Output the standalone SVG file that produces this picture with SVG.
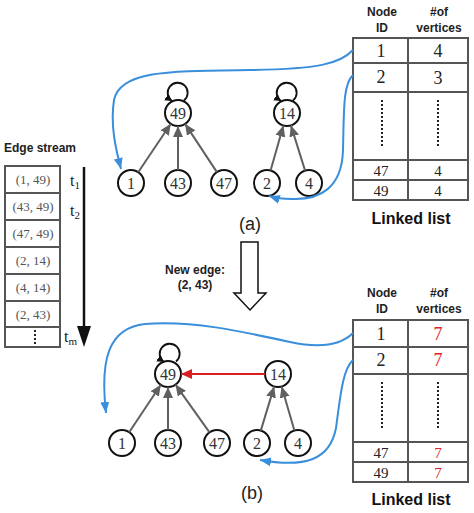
<svg xmlns="http://www.w3.org/2000/svg" width="474" height="513" viewBox="0 0 474 513">
<defs>
<style>
.nd{fill:#fff;stroke:#111;stroke-width:2}
.nt{font-family:"Liberation Serif",serif;font-size:16px;fill:#333;text-anchor:middle}
.ga{stroke:#606060;stroke-width:2;fill:none}
.bl{stroke:#3a8fdc;stroke-width:2;fill:none}
.tb{fill:#fff;stroke:#555;stroke-width:2}
.tl{stroke:#555;stroke-width:2}
.tv{font-family:"Liberation Serif",serif;font-size:18px;fill:#222;text-anchor:middle}
.ts{font-size:15px}
.red{fill:#e0202a}
.hd{font-family:"Liberation Sans",Arial,sans-serif;font-weight:bold;font-size:12px;fill:#222;text-anchor:middle}
.ll{font-family:"Liberation Sans",Arial,sans-serif;font-weight:bold;font-size:16px;fill:#111;text-anchor:middle}
.es{font-family:"Liberation Serif",serif;font-size:13px;fill:#555;text-anchor:middle}
.tt{font-family:"Liberation Serif",serif;font-size:16px;fill:#222}
.dot{stroke:#222;stroke-width:2;stroke-dasharray:2 2}
.cap{font-family:"Liberation Sans",Arial,sans-serif;font-size:18px;fill:#222;text-anchor:middle}
</style>
<marker id="mg" markerUnits="userSpaceOnUse" markerWidth="12" markerHeight="12" viewBox="0 0 12 12" refX="11" refY="6" orient="auto"><path d="M0,1 L11,6 L0,11 Z" fill="#606060"/></marker>
<marker id="mr" markerUnits="userSpaceOnUse" markerWidth="12" markerHeight="12" viewBox="0 0 12 12" refX="11" refY="6" orient="auto"><path d="M0,1 L11,6 L0,11 Z" fill="#d81e1e"/></marker>
<marker id="mb" markerUnits="userSpaceOnUse" markerWidth="12" markerHeight="12" viewBox="0 0 12 12" refX="11" refY="6" orient="auto"><path d="M0,1.5 L11,6 L0,10.5 Z" fill="#3a8fdc"/></marker>
<marker id="mk" markerUnits="userSpaceOnUse" markerWidth="8" markerHeight="8" viewBox="0 0 8 8" refX="7" refY="4" orient="auto"><path d="M0,0 L7,4 L0,8 Z" fill="#111"/></marker>
</defs>

<!-- Edge stream -->
<g id="edge-stream">
<text x="4" y="152" font-family="Liberation Sans, Arial, sans-serif" font-weight="bold" font-size="12" fill="#222">Edge stream</text>
<rect class="tb" x="5" y="166" width="55" height="181"/>
<line class="tl" x1="5" y1="193" x2="60" y2="193"/>
<line class="tl" x1="5" y1="220" x2="60" y2="220"/>
<line class="tl" x1="5" y1="247" x2="60" y2="247"/>
<line class="tl" x1="5" y1="274" x2="60" y2="274"/>
<line class="tl" x1="5" y1="301" x2="60" y2="301"/>
<line class="tl" x1="5" y1="327" x2="60" y2="327"/>
<text class="es" x="33" y="184">(1, 49)</text>
<text class="es" x="33" y="211">(43, 49)</text>
<text class="es" x="33" y="238">(47, 49)</text>
<text class="es" x="33" y="265">(2, 14)</text>
<text class="es" x="33" y="292">(4, 14)</text>
<text class="es" x="33" y="319" fill="#e0304a">(2, 43)</text>
<line class="dot" x1="35" y1="330" x2="35" y2="344"/>
<line x1="84" y1="167" x2="84" y2="328" stroke="#111" stroke-width="2.5"/>
<path d="M77,326 L91,326 L84,347 Z" fill="#111"/>
<text class="tt" x="70" y="186">t<tspan font-size="11" dy="3">1</tspan></text>
<text class="tt" x="70" y="216">t<tspan font-size="11" dy="3">2</tspan></text>
<text class="tt" x="64" y="342">t<tspan font-size="11" dy="3">m</tspan></text>
</g>

<!-- Top linked list -->
<g id="list-a">
<text class="hd" x="382" y="16">Node</text>
<text class="hd" x="382" y="32">ID</text>
<text class="hd" x="439" y="16">#of</text>
<text class="hd" x="439" y="32">vertices</text>
<rect class="tb" x="353" y="38" width="115" height="162"/>
<line class="tl" x1="408" y1="38" x2="408" y2="200"/>
<line class="tl" x1="353" y1="63" x2="468" y2="63"/>
<line class="tl" x1="353" y1="92" x2="468" y2="92"/>
<line class="tl" x1="353" y1="160" x2="468" y2="160"/>
<line class="tl" x1="353" y1="180" x2="468" y2="180"/>
<text class="tv" x="381" y="57">1</text>
<text class="tv" x="438" y="57">4</text>
<text class="tv" x="381" y="83">2</text>
<text class="tv" x="438" y="84">3</text>
<line class="dot" x1="382" y1="100" x2="382" y2="146"/>
<line class="dot" x1="438" y1="100" x2="438" y2="146"/>
<text class="tv ts" x="381" y="176">47</text>
<text class="tv ts" x="438" y="176">4</text>
<text class="tv ts" x="381" y="196">49</text>
<text class="tv ts" x="438" y="196">4</text>
<text class="ll" x="411" y="224">Linked list</text>
</g>

<!-- Bottom linked list -->
<g id="list-b">
<text class="hd" x="382" y="297">Node</text>
<text class="hd" x="382" y="313">ID</text>
<text class="hd" x="439" y="297">#of</text>
<text class="hd" x="439" y="313">vertices</text>
<rect class="tb" x="353" y="320" width="115" height="162"/>
<line class="tl" x1="408" y1="320" x2="408" y2="482"/>
<line class="tl" x1="353" y1="347" x2="468" y2="347"/>
<line class="tl" x1="353" y1="374" x2="468" y2="374"/>
<line class="tl" x1="353" y1="442" x2="468" y2="442"/>
<line class="tl" x1="353" y1="462" x2="468" y2="462"/>
<text class="tv" x="381" y="340">1</text>
<text class="tv red" x="438" y="340">7</text>
<text class="tv" x="381" y="366">2</text>
<text class="tv red" x="438" y="366">7</text>
<line class="dot" x1="382" y1="382" x2="382" y2="428"/>
<line class="dot" x1="438" y1="382" x2="438" y2="428"/>
<text class="tv ts" x="381" y="458">47</text>
<text class="tv ts red" x="438" y="458">7</text>
<text class="tv ts" x="381" y="478">49</text>
<text class="tv ts red" x="438" y="478">7</text>
<text class="ll" x="411" y="505">Linked list</text>
</g>

<!-- Transition -->
<g id="new-edge">
<text class="hd" x="195" y="274" font-size="11.5">New edge:</text>
<text class="hd" x="195" y="289" font-size="11.5">(2, 43)</text>
<polygon points="241,242 258,242 258,293 266,293 250,310 234,293 241,293" fill="#fff" stroke="#111" stroke-width="1.5"/>
</g>

<!-- Graph (a) nodes -->
<g id="a-49"><circle class="nd" cx="178" cy="113" r="13"/><text class="nt" x="178" y="118.5">49</text></g>
<g id="a-14"><circle class="nd" cx="287" cy="113" r="13"/><text class="nt" x="287" y="118.5">14</text></g>
<g id="a-1"><circle class="nd" cx="131" cy="183" r="13"/><text class="nt" x="131" y="188.5">1</text></g>
<g id="a-43"><circle class="nd" cx="178" cy="183" r="13"/><text class="nt" x="178" y="188.5">43</text></g>
<g id="a-47"><circle class="nd" cx="224" cy="183" r="13"/><text class="nt" x="224" y="188.5">47</text></g>
<g id="a-2"><circle class="nd" cx="267" cy="183" r="13"/><text class="nt" x="267" y="188.5">2</text></g>
<g id="a-4"><circle class="nd" cx="309" cy="183" r="13"/><text class="nt" x="309" y="188.5">4</text></g>
<text class="cap" x="250" y="230">(a)</text>

<!-- Graph (b) nodes -->
<g id="b-49"><circle class="nd" cx="168" cy="374" r="13"/><text class="nt" x="168" y="379.5">49</text></g>
<g id="b-14"><circle class="nd" cx="278" cy="374" r="13"/><text class="nt" x="278" y="379.5">14</text></g>
<g id="b-1"><circle class="nd" cx="122" cy="443" r="13"/><text class="nt" x="122" y="448.5">1</text></g>
<g id="b-43"><circle class="nd" cx="168" cy="443" r="13"/><text class="nt" x="168" y="448.5">43</text></g>
<g id="b-47"><circle class="nd" cx="217" cy="443" r="13"/><text class="nt" x="217" y="448.5">47</text></g>
<g id="b-2"><circle class="nd" cx="257" cy="443" r="13"/><text class="nt" x="257" y="448.5">2</text></g>
<g id="b-4"><circle class="nd" cx="298" cy="443" r="13"/><text class="nt" x="298" y="448.5">4</text></g>
<text class="cap" x="252" y="499">(b)</text>

<!-- Connectors -->
<g id="connectors">
<path d="M184,100.5 A10,10 0 1 0 172,101" fill="none" stroke="#111" stroke-width="1.8" marker-end="url(#mk)"/>
<path d="M293,100.5 A10,10 0 1 0 281,101" fill="none" stroke="#111" stroke-width="1.8" marker-end="url(#mk)"/>
<path d="M176,361.5 A10,10 0 1 0 164,362" fill="none" stroke="#111" stroke-width="1.8" marker-end="url(#mk)"/>
<line class="ga" x1="138.2" y1="172.2" x2="170.8" y2="123.8" marker-end="url(#mg)"/>
<line class="ga" x1="178" y1="170" x2="178" y2="126" marker-end="url(#mg)"/>
<line class="ga" x1="216.9" y1="172.1" x2="185.1" y2="123.9" marker-end="url(#mg)"/>
<line class="ga" x1="270.6" y1="170.5" x2="283.4" y2="125.5" marker-end="url(#mg)"/>
<line class="ga" x1="305.1" y1="170.6" x2="290.9" y2="125.4" marker-end="url(#mg)"/>
<line class="ga" x1="129.2" y1="432.2" x2="160.8" y2="384.8" marker-end="url(#mg)"/>
<line class="ga" x1="168" y1="430" x2="168" y2="387" marker-end="url(#mg)"/>
<line class="ga" x1="209.5" y1="432.4" x2="175.5" y2="384.6" marker-end="url(#mg)"/>
<line class="ga" x1="260.8" y1="430.6" x2="274.2" y2="386.4" marker-end="url(#mg)"/>
<line class="ga" x1="294.4" y1="430.5" x2="281.6" y2="386.5" marker-end="url(#mg)"/>
<line x1="265" y1="374" x2="181" y2="374" stroke="#d81e1e" stroke-width="2" marker-end="url(#mr)"/>
<path class="bl" d="M353,50 C340,64 318,69 250,70 C170,71 120,70 114,100 C110,125 116,150 121,169" marker-end="url(#mb)"/>
<path class="bl" d="M353,75 C343,84 344,110 343,150 C342,188 320,200 292,199 C282,199 275,198 269,196" marker-end="url(#mb)"/>
<path class="bl" d="M353,333 C340,346 318,348 290,342 C240,331 190,320 145,324 C108,328 100,360 106,413" marker-end="url(#mb)"/>
<path class="bl" d="M353,360 C342,370 340,400 336,428 C330,460 305,468 260,460" marker-end="url(#mb)"/>
</g>
</svg>
